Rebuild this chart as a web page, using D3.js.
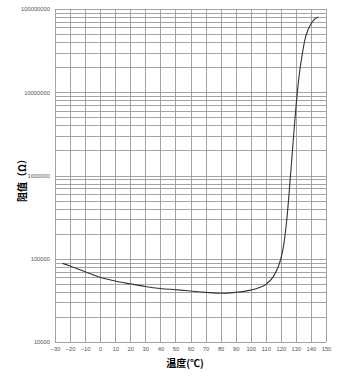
<!DOCTYPE html>
<html>
<head>
<meta charset="utf-8">
<script src="https://cdn.jsdelivr.net/npm/d3@7"></script>
<style>
  body { margin: 0; background: #fff; }
  .tick text { font-family: "Liberation Sans", Arial, sans-serif; }
</style>
</head>
<body>
<div id="chart"></div>
<script>
// temperature (°C) and resistance (Ω)
var temps = [-25, -20, -10, 0, 10, 20, 30, 40, 50, 60, 70, 80, 90, 100, 105, 110, 115, 118, 120, 122, 124, 126, 128, 130, 132, 134, 136, 138, 140, 142, 145];
var ohms = [88000, 82000, 70000, 60000, 54000, 50000, 46500, 44000, 42500, 41000, 39500, 38500, 39500, 42000, 44500, 49000, 61000, 78000, 100000, 150000, 300000, 800000, 2300000, 6500000, 15000000, 27000000, 43000000, 56000000, 66000000, 74000000, 80000000];

var xTicks = [-30, -20, -10, 0, 10, 20, 30, 40, 50, 60, 70, 80, 90, 100, 110, 120, 130, 140, 150];
var yTicks = [10000, 100000, 1000000, 10000000, 100000000];
var xTitle = "温度(℃)";
var yTitle = "阻值（Ω）";

var W = 352, H = 377;
var margin = {top: 9, right: 26, bottom: 35, left: 55};
var w = W - margin.left - margin.right;
var h = H - margin.top - margin.bottom;

var svg = d3.select('#chart')
  .append('svg')
    .attr('width', W)
    .attr('height', H);

var g = svg.append('g')
    .attr('transform', 'translate(' + margin.left + ',' + margin.top + ')');

var x = d3.scaleLinear()
    .domain([-30, 150])
    .range([0, w]);

var y = d3.scaleLog()
    .domain([10000, 100000000])
    .range([h, 0]);

// minor log grid lines (2..9 inside each decade)
var minor = [];
yTicks.slice(0, -1).forEach(function(d) {
  for (var k = 2; k <= 9; k++) minor.push(d * k);
});

g.selectAll('.hgrid')
  .data(minor.concat(yTicks))
  .enter()
  .append('line')
    .attr('x1', 0)
    .attr('x2', w)
    .attr('y1', d => Math.round(y(d)) + 0.5)
    .attr('y2', d => Math.round(y(d)) + 0.5)
    .attr('stroke', '#9a9a9a')
    .attr('stroke-width', 0.9);

g.selectAll('.vgrid')
  .data(xTicks)
  .enter()
  .append('line')
    .attr('y1', 0)
    .attr('y2', h)
    .attr('x1', d => Math.round(x(d)) + 0.5)
    .attr('x2', d => Math.round(x(d)) + 0.5)
    .attr('stroke', '#9a9a9a')
    .attr('stroke-width', 0.9);

// the curve
var line = d3.line()
    .x((d, i) => x(temps[i]))
    .y(d => y(d))
    .curve(d3.curveMonotoneX);

g.append('path')
    .datum(ohms)
    .attr('d', line)
    .attr('fill', 'none')
    .attr('stroke', '#333')
    .attr('stroke-width', 1.1);

// axes (labels only)
var xAxis = g.append('g')
    .attr('transform', 'translate(0,' + h + ')')
    .call(d3.axisBottom(x).tickValues(xTicks).tickSize(0).tickPadding(5));

var yAxis = g.append('g')
    .call(d3.axisLeft(y).tickValues(yTicks).tickFormat(d3.format('d')).tickSize(0).tickPadding(5));

[xAxis, yAxis].forEach(function(a) {
  a.select('.domain').remove();
  a.selectAll('text')
    .attr('font-size', 5.8)
    .attr('fill', '#555');
});

svg.append('text')
    .attr('x', 185)
    .attr('y', 367)
    .attr('text-anchor', 'middle')
    .attr('font-family', '"Noto Sans CJK SC", sans-serif')
    .attr('font-weight', 'bold')
    .attr('font-size', 10)
    .text(xTitle);

svg.append('text')
    .attr('transform', 'translate(26,178) rotate(-90)')
    .attr('text-anchor', 'middle')
    .attr('font-family', '"Noto Sans CJK SC", sans-serif')
    .attr('font-weight', 'bold')
    .attr('font-size', 10)
    .text(yTitle);
</script>
</body>
</html>
